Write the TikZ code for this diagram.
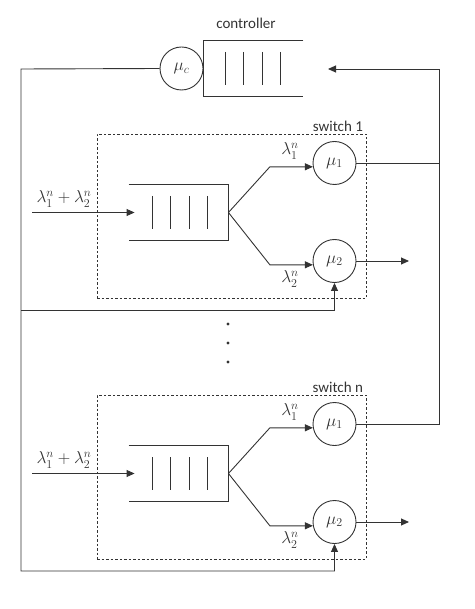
\documentclass[tikz,border=0pt]{standalone}
\usepackage{fontspec}
\setmainfont{Carlito}
\usetikzlibrary{arrows.meta,calc}
\begin{document}
\begin{tikzpicture}[x=1pt,y=-1pt,line width=0.9pt,
  every node/.style={font=\fontsize{15}{18}\selectfont},
  server/.style={circle,draw,minimum size=43pt,inner sep=0pt,font=\fontsize{17}{19}\selectfont},
  queuebox/.style={rectangle,minimum width=99pt,minimum height=55pt,inner sep=0pt},
  arr/.style={-{Triangle[length=8pt,width=7pt]}},
  swbox/.style={draw,line width=0.7pt,dash pattern=on 2.5pt off 2pt,minimum width=269pt,minimum height=164pt,inner sep=0pt},
  lam/.style={font=\fontsize{17.5}{19}\selectfont,inner sep=1pt}]
\useasboundingbox (0,0) rectangle (474,609);
\definecolor{ln}{gray}{0.2}
\begin{scope}[draw=ln,color=ln]
% controller
\node (ctl) at (246,23) {controller};
\node[server] (muc) at (181.5,68.5) {$\mu_c$};
\node[queuebox] (qc) at (253.5,68.5) {};
\draw (qc.north east) -- (qc.north west) -- (qc.south west) -- (qc.south east);
\foreach \dx in {-28.5,-10.5,8.5,26.5}
  \draw ($(qc.center)+(\dx,-16.5)$) -- ++(0,33);
\coordinate (fbtip) at (328,69);
\coordinate (fbr) at (439,69);
\coordinate (lt) at (21,69);
\coordinate (lm) at (21,310);
\coordinate (lb) at (21,571);
% switches
\foreach \i/\dy/\lab in {1/0/{switch 1},n/261/{switch n}}{
  \node[swbox] (sw\i) at (231.5,216+\dy) {};
  \node[anchor=south east,inner sep=2pt] (swl\i) at ($(sw\i.north east)+(-1,0)$) {\lab};
  \node[server] (s\i m1) at (334.5,163+\dy) {$\mu_1$};
  \node[server] (s\i m2) at (334.5,261+\dy) {$\mu_2$};
  \node[queuebox] (q\i) at (178.5,212.5+\dy) {};
  \draw (q\i.north west) -- (q\i.north east) -- (q\i.south east) -- (q\i.south west);
  \foreach \dx in {-26.5,-8.5,10.5,28.5}
    \draw ($(q\i.center)+(\dx,-16.5)$) -- ++(0,33);
  \coordinate (in\i) at (32,212.5+\dy);
  \draw[arr] (in\i) -- ($(q\i.west)+(6,0)$);
  \node[lam] (lin\i) at (64,199+\dy) {$\lambda_1^n+\lambda_2^n$};
  \draw[arr] (q\i.east) -- ($(s\i m1.190)+(-43,0)$) -- (s\i m1.190);
  \draw[arr] (q\i.east) -- ($(s\i m2.190)+(-43,0)$) -- (s\i m2.190);
  \node[lam] (la\i) at (290,151+\dy) {$\lambda_1^n$};
  \node[lam] (lb\i) at (290,279+\dy) {$\lambda_2^n$};
  \coordinate (out\i) at (409,261+\dy);
  \draw[arr] (s\i m2.east) -- (out\i);
}
% feedback to controller
\draw (s1m1.east) -- (s1m1.east -| fbr);
\draw[arr] (snm1.east) -| (fbr) -- (fbtip);
% controller to switches
\draw[arr] (muc.west) -- (lt) -- (lb) -| (snm2.south);
\draw[arr] (lm) -| (s1m2.south);
% dots
\foreach \y in {324,343,362} \fill (228,\y) circle (1.6pt);
\end{scope}
\end{tikzpicture}
\end{document}
